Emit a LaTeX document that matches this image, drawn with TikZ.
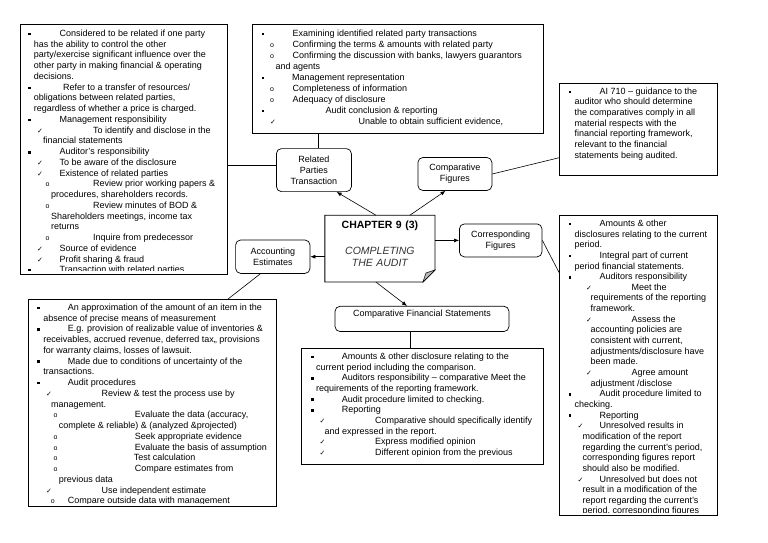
\documentclass[tikz,border=0pt]{standalone}
\usepackage{fontspec}
\setmainfont{Liberation Sans}
\newfontfamily\symfont{DejaVu Sans}
\usepackage{tikz}
\usetikzlibrary{arrows.meta}

\newcommand{\markSq}{\rule[1.1pt]{2.6pt}{2.6pt}}
\newcommand{\markChk}{{\symfont\fontsize{7}{7}\selectfont ✓}}
\newcommand{\markO}{{\fontsize{7}{7}\selectfont o}}
% list line: mark pos, text pos, wrap indent, mark, text
\newcommand{\bline}[5]{\par\leftskip=#3pt\relax\noindent\hspace*{\dimexpr#1pt-#3pt\relax}\makebox[\dimexpr#2pt-#1pt\relax][l]{#4}#5}
% panel of list lines: width, line distance, lines
\newcommand{\listpanel}[3]{\parbox[t]{#1}{\fontsize{9}{#2}\selectfont\rightskip=0pt plus 1fil\relax#3\par}}

\begin{document}
\begin{tikzpicture}[x=1pt, y=-1pt,
        >={Latex[length=5pt,width=4pt]},
        txtbox/.style={draw, rectangle, line width=0.8pt, anchor=north west, inner sep=0pt},
        topic/.style={draw, rectangle, rounded corners=5pt, line width=0.7pt, align=center, inner sep=2pt, fill=white, font=\fontsize{9}{10.7}\selectfont},
        boxtext/.style={anchor=base west, inner sep=0pt},
        link/.style={line width=0.6pt}
    ]
        \useasboundingbox (0,0) rectangle (768,543);

        \node[txtbox, minimum width=207pt, minimum height=249pt] (relbox) at (20,24.5) {};
        \node[txtbox, minimum width=291pt, minimum height=108.5pt] (exambox) at (251.5,24.5) {};
        \node[txtbox, minimum width=157.5pt, minimum height=91.5pt] (aibox) at (559.4,83.2) {};
        \node[txtbox, minimum width=157.5pt, minimum height=300pt] (corrbox) at (559.4,215.4) {};
        \node[txtbox, minimum width=248.5pt, minimum height=207.3pt] (estbox) at (27.7,299) {};
        \node[txtbox, minimum width=241.5pt, minimum height=116.3pt] (cfsbox) at (301,348) {};

        \begin{scope}
            \clip ([xshift=0.4pt,yshift=-0.4pt]relbox.north west) rectangle ([xshift=-0.4pt,yshift=4pt]relbox.south east);
            \node[boxtext] (reltext) at ([yshift=-12pt]relbox.north west) {\listpanel{240pt}{10.75pt}{%
                \bline{8}{39.4}{13.7}{\markSq}{Considered to be related if one party\newline has the ability to control the other\newline party/exercise significant influence over the\newline other party in making financial \& operating\newline decisions.}%
                \bline{8}{43}{13.7}{\markSq}{Refer to a transfer of resources/\newline obligations between related parties,\newline regardless of whether a price is charged.}%
                \bline{8}{39.4}{13.7}{\markSq}{Management responsibility}%
                \bline{17}{73}{23}{\markChk}{To identify and disclose in the\newline financial statements}%
                \bline{8}{39.4}{13.7}{\markSq}{Auditor’s responsibility}%
                \bline{17}{39.4}{23}{\markChk}{To be aware of the disclosure}%
                \bline{17}{39.4}{23}{\markChk}{Existence of related parties}%
                \bline{25.5}{73}{31}{\markO}{Review prior working papers \&\newline procedures, shareholders records.}%
                \bline{25.5}{73}{31}{\markO}{Review minutes of BOD \&\newline Shareholders meetings, income tax\newline returns}%
                \bline{25.5}{73}{31}{\markO}{Inquire from predecessor}%
                \bline{17}{39.4}{23}{\markChk}{Source of evidence}%
                \bline{17}{39.4}{23}{\markChk}{Profit sharing \& fraud}%
                \bline{8}{39.4}{13.7}{\markSq}{Transaction with related parties}}};
        \end{scope}

        \begin{scope}
            \clip ([xshift=0.4pt,yshift=-0.4pt]exambox.north west) rectangle ([xshift=-0.4pt,yshift=4pt]exambox.south east);
            \node[boxtext] (examtext) at ([yshift=-12pt]exambox.north west) {\listpanel{320pt}{11pt}{%
                \bline{10}{41}{24}{\markSq}{Examining identified related party transactions}%
                \bline{18.5}{41}{24}{\markO}{Confirming the terms \& amounts with related party}%
                \bline{18.5}{41}{24}{\markO}{Confirming the discussion with banks, lawyers guarantors\newline and agents}%
                \bline{10}{40.5}{24}{\markSq}{Management representation}%
                \bline{18.5}{41}{24}{\markO}{Completeness of information}%
                \bline{18.5}{41}{24}{\markO}{Adequacy of disclosure}%
                \bline{10}{74}{24}{\markSq}{Audit conclusion \& reporting}%
                \bline{18.5}{107}{24}{\markChk}{Unable to obtain sufficient evidence,}}};
        \end{scope}

        \begin{scope}
            \clip ([xshift=0.4pt,yshift=-0.4pt]aibox.north west) rectangle ([xshift=-0.4pt,yshift=4pt]aibox.south east);
            \node[boxtext] (aitext) at ([yshift=-11pt]aibox.north west) {\listpanel{190pt}{10.7pt}{%
                \bline{9}{40}{15}{\markSq}{AI 710 – guidance to the\newline auditor who should determine\newline the comparatives comply in all\newline material respects with the\newline financial reporting framework,\newline relevant to the financial\newline statements being audited.}}};
        \end{scope}

        \begin{scope}
            \clip ([xshift=0.4pt,yshift=-0.4pt]corrbox.north west) rectangle ([xshift=-0.4pt,yshift=4pt]corrbox.south east);
            \node[boxtext] (corrtext) at ([yshift=-11pt]corrbox.north west) {\listpanel{190pt}{10.65pt}{%
                \bline{9}{40}{15}{\markSq}{Amounts \& other\newline disclosures relating to the current\newline period.}%
                \bline{9}{40}{15}{\markSq}{Integral part of current\newline period financial statements.}%
                \bline{9}{40}{15}{\markSq}{Auditors responsibility}%
                \bline{26.6}{72}{31}{\markChk}{Meet the\newline requirements of the reporting\newline framework.}%
                \bline{26.6}{72}{31}{\markChk}{Assess the\newline accounting policies are\newline consistent with current,\newline adjustments/disclosure have\newline been made.}%
                \bline{26.6}{72}{31}{\markChk}{Agree amount\newline adjustment /disclose}%
                \bline{9}{40}{15}{\markSq}{Audit procedure limited to\newline checking.}%
                \bline{9}{40}{15}{\markSq}{Reporting}%
                \bline{18}{40}{23}{\markChk}{Unresolved results in\newline modification of the report\newline regarding the current’s period,\newline corresponding figures report\newline should also be modified.}%
                \bline{18}{40}{23}{\markChk}{Unresolved but does not\newline result in a modification of the\newline report regarding the current’s\newline period, corresponding figures}}};
        \end{scope}

        \begin{scope}
            \clip ([xshift=0.4pt,yshift=-0.4pt]estbox.north west) rectangle ([xshift=-0.4pt,yshift=4pt]estbox.south east);
            \node[boxtext] (esttext) at ([yshift=-11.3pt]estbox.north west) {\listpanel{280pt}{10.75pt}{%
                \bline{9.4}{40}{15.4}{\markSq}{An approximation of the amount of an item in the\newline absence of precise means of measurement}%
                \bline{9.4}{40}{15.4}{\markSq}{E.g. provision of realizable value of inventories \&\newline receivables, accrued revenue, deferred tax,, provisions\newline for warranty claims, losses of lawsuit.}%
                \bline{9.4}{40}{15.4}{\markSq}{Made due to conditions of uncertainty of the\newline transactions.}%
                \bline{9.4}{40}{15.4}{\markSq}{Audit procedures}%
                \bline{18.3}{73.8}{23.3}{\markChk}{Review \& test the process use by\newline management.}%
                \bline{25.8}{107}{31}{\markO}{Evaluate the data (accuracy,\newline complete \& reliable) \& (analyzed \&projected)}%
                \bline{25.8}{107}{31}{\markO}{Seek appropriate evidence}%
                \bline{25.8}{107}{31}{\markO}{Evaluate the basis of assumption}%
                \bline{25.8}{106}{31}{\markO}{Test calculation}%
                \bline{25.8}{107}{31}{\markO}{Compare estimates from\newline previous data}%
                \bline{18.3}{73.8}{23.3}{\markChk}{Use independent estimate}%
                \bline{23}{40}{31}{\markO}{Compare outside data with management}}};
        \end{scope}

        \begin{scope}
            \clip ([xshift=0.4pt,yshift=-0.4pt]cfsbox.north west) rectangle ([xshift=-0.4pt,yshift=4pt]cfsbox.south east);
            \node[boxtext] (cfstext) at ([yshift=-11.3pt]cfsbox.north west) {\listpanel{270pt}{10.7pt}{%
                \bline{10}{40.6}{14.8}{\markSq}{Amounts \& other disclosure relating to the\newline current period including the comparison.}%
                \bline{10}{40.6}{14.8}{\markSq}{Auditors responsibility – comparative Meet the\newline requirements of the reporting framework.}%
                \bline{10}{40.6}{14.8}{\markSq}{Audit procedure limited to checking.}%
                \bline{10}{40.6}{14.8}{\markSq}{Reporting}%
                \bline{18.3}{74}{23.3}{\markChk}{Comparative should specifically identify\newline and expressed in the report.}%
                \bline{18.3}{74}{23.3}{\markChk}{Express modified opinion}%
                \bline{18.3}{74}{23.3}{\markChk}{Different opinion from the previous}}};
        \end{scope}

        \node[topic, minimum width=75pt, minimum height=43pt] (rpt) at (313.9,170.1) {Related\\Parties\\Transaction};
        \node[topic, minimum width=74pt, minimum height=33pt] (cfig) at (454.9,174) {Comparative\\Figures};
        \node[topic, minimum width=82.6pt, minimum height=33pt] (corr) at (500.7,240.4) {Corresponding\\Figures};
        \node[topic, minimum width=74.4pt, minimum height=33.4pt] (acc) at (272.8,256.7) {Accounting\\Estimates};
        \node[topic, minimum width=174pt, minimum height=25.2pt, text height=6.5pt, text depth=11.3pt] (cfs) at (422,318.9) {Comparative Financial Statements};

        \node[minimum width=109.7pt, minimum height=66.4pt, inner sep=0pt] (chap) at (379.9,248.6) {};
        \draw[line width=0.8pt, fill=white] (chap.north west) -- (chap.north east) -- ([yshift=12pt]chap.south east) -- ([xshift=-12pt]chap.south east) -- (chap.south west) -- cycle;
        \draw[line width=0.5pt, fill=gray!55] ([yshift=12pt]chap.south east) -- ([xshift=-12pt]chap.south east) -- ([xshift=-9pt,yshift=9pt]chap.south east) -- cycle;
        \node[anchor=base, text width=100pt, align=center, inner sep=0pt, font=\fontsize{10.5}{12.7}\selectfont] (chaptext) at ([yshift=-13.1pt]chap.north) {\textbf{CHAPTER 9 (3)}\\[13.1pt]\textcolor{black!80}{\itshape COMPLETING\\THE AUDIT}};

        \coordinate (rptup) at ([xshift=4pt]rpt.north);
        \coordinate (rptleft) at ([yshift=4.4pt]rpt.west);
        \coordinate (cfsdown) at ([xshift=-12pt]cfs.south);

        \draw[->, link] ([xshift=-4pt]chap.north) -- ([xshift=22.7pt]rpt.south);
        \draw[->, link] ([xshift=30pt]chap.north) -- ([xshift=-9.4pt]cfig.south);
        \draw[->, link] (chap.east |- corr.west) -- (corr.west);
        \draw[->, link] (chap.west |- acc.east) -- (acc.east);
        \draw[->, link] ([xshift=-4pt]chap.south) -- ([xshift=-15pt]cfs.north);

        \draw[link] (rptup) -- (rptup |- exambox.south);
        \draw[link] (rptleft) -- (rptleft -| relbox.east);
        \draw[link] (cfig.east) -- ([yshift=-28.3pt]aibox.west);
        \draw[link] (corr.east) -- ([yshift=92.7pt]corrbox.west);
        \draw[link] ([xshift=-12.4pt]acc.south) -- ([xshift=75.7pt]estbox.north);
        \draw[link] (cfsdown) -- (cfsdown |- cfsbox.north);
    \end{tikzpicture}
\end{document}
